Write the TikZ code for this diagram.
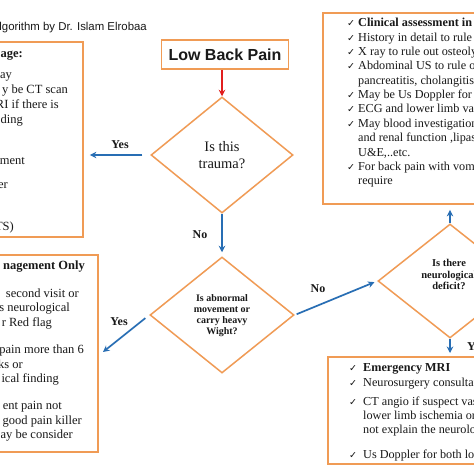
\documentclass[tikz,border=0pt]{standalone}
\usepackage{fontspec}
\setmainfont{Liberation Serif}
\newfontfamily\arialf{Liberation Sans}
\newfontfamily\chkf{DejaVu Sans}
\usetikzlibrary{shapes.geometric,arrows.meta}
\definecolor{orng}{RGB}{240,155,85}
\definecolor{blu}{RGB}{40,110,180}
\definecolor{redarr}{RGB}{225,30,30}
\definecolor{ink}{RGB}{25,25,25}
\begin{document}
\begin{tikzpicture}[x=1pt,y=-1pt,
  box/.style={draw=orng, line width=1.9pt, rectangle, inner sep=0pt},
  dia/.style={draw=orng, line width=1.5pt, diamond, inner sep=0pt},
  dtxt/.style={inner sep=0pt, align=center, text=ink},
  rt/.style={inner sep=0pt, anchor=base east, text=ink, font=\fontsize{12.5}{14}\selectfont},
  lt/.style={inner sep=0pt, anchor=base west, text=ink, font=\fontsize{12.2}{14}\selectfont},
  ck/.style={inner sep=0pt, anchor=base west, text=ink, font=\chkf\fontsize{9.5}{10}\selectfont},
  barr/.style={draw=blu, line width=1.7pt, -{Stealth[length=6.5pt,width=6.5pt]}},
  rarr/.style={draw=redarr, line width=1.5pt, -{Stealth[length=6.5pt,width=6.5pt]}},
  lbl/.style={inner sep=0pt, text=ink, font=\bfseries\fontsize{12}{12}\selectfont}]
\useasboundingbox (0,0) rectangle (474,474);
\fill[white] (0,0) rectangle (474,474);
\clip (0,0) rectangle (474,474);

% title
\node[inner sep=0pt, anchor=base east, text=ink, font=\arialf\fontsize{11.4}{12}\selectfont] (title) at (147,30) {Algorithm by Dr. Islam Elrobaa};

% boxes
\node[box, anchor=north west, minimum width=102pt, minimum height=195pt] (tl) at (-20,41) {};
\node[box, anchor=north west, minimum width=117pt, minimum height=197pt] (bl) at (-20,254) {};
\node[box, anchor=north west, minimum width=170pt, minimum height=191pt] (tr) at (322,12) {};
\node[box, anchor=north west, minimum width=165pt, minimum height=107pt] (br) at (327,356) {};
\node[box, minimum width=127pt, minimum height=29pt, text=ink, font=\arialf\bfseries\fontsize{16}{18}\selectfont] (lbp) at (225,54.5) {Low Back Pain};

% diamonds
\node[dia, minimum width=142pt, minimum height=116pt] (trauma) at (222,155) {};
\node[dtxt, font=\fontsize{14.5}{17}\selectfont] (traumat) at (222,155.5) {Is this\\trauma?};
\node[dia, minimum width=144pt, minimum height=116pt] (abn) at (222,315) {};
\node[dtxt, font=\bfseries\fontsize{10}{11}\selectfont] (abnt) at (222,315.5) {Is abnormal\\movement or\\carry heavy\\Wight?};
\node[dia, minimum width=144pt, minimum height=114pt] (neuro) at (450,281) {};
\node[dtxt, font=\bfseries\fontsize{10.5}{11.5}\selectfont] (neurot) at (449,274.5) {Is there\\neurological\\deficit?};

% arrows
\draw[rarr] (lbp.south -| trauma.north) -- (trauma.north);
\draw[barr, shorten <=8pt, shorten >=6pt] (trauma.west) -- (trauma.west -| tl.east);
\draw[barr, shorten >=4pt] (trauma.south) -- (abn.north);
\coordinate (yesend) at (103,352);
\draw[barr, shorten <=5pt] (abn.west) -- (yesend);
\draw[barr, shorten <=2pt, shorten >=3pt] (abn.east) -- (neuro.west);
\draw[barr, shorten >=5pt] (neuro.north) -- (neuro.north |- tr.south);
\draw[barr, shorten >=3pt] (neuro.south) -- (neuro.south |- br.north);

% labels
\node[lbl] (yes1) at (120,145) {Yes};
\node[lbl] (no1) at (200,235) {No};
\node[lbl] (yes2) at (119,322) {Yes};
\node[lbl] (no2) at (318,289) {No};
\node[lbl, anchor=west] (yes3) at (467,347) {Yes};

% top-left box fragments
\node[rt, font=\bfseries\fontsize{12.5}{14}\selectfont] (a1) at (23,57) {age:};
\node[rt] (a2) at (12,78) {ay};
\node[rt] (a3) at (68,93) {y be CT scan};
\node[rt] (a4) at (59,108) {RI if there is};
\node[rt] (a5) at (23,123) {ding};
\node[rt] (a6) at (25,164) {ment};
\node[rt] (a7) at (8,188) {er};
\node[rt] (a8) at (14,230) {TS)};

% bottom-left box fragments
\node[rt, font=\bfseries\fontsize{12.5}{14}\selectfont] (b1) at (85,269) {nagement Only};
\node[rt] (b2) at (79,297) {second visit or};
\node[rt] (b3) at (70,311) {s neurological};
\node[rt] (b4) at (52,326) {r Red flag};
\node[rt] (b5) at (84,353) {pain more than 6};
\node[rt] (b6) at (23,368) {ks or};
\node[rt] (b7) at (59,382) {ical finding};
\node[rt] (b8) at (62,409) {ent pain not};
\node[rt] (b9) at (82,424) {good pain killer};
\node[rt] (b10) at (73,438) {ay be consider};

% top-right box
\node[ck] (c1) at (347,26.7) {✓};
\node[lt, font=\bfseries\fontsize{12.2}{14}\selectfont] (t1) at (358,26.7) {Clinical assessment in details};
\node[ck] (c2) at (347,41.0) {✓};
\node[lt] (t2) at (358,41.0) {History in detail to rule out};
\node[ck] (c3) at (347,55.4) {✓};
\node[lt] (t3) at (358,55.4) {X ray to rule out osteolytic};
\node[ck] (c4) at (347,69.8) {✓};
\node[lt] (t4) at (358,69.8) {Abdominal US to rule out};
\node[lt] (t5) at (358,84.1) {pancreatitis, cholangitis..};
\node[ck] (c6) at (347,98.5) {✓};
\node[lt] (t6) at (358,98.5) {May be Us Doppler for both};
\node[ck] (c7) at (347,112.9) {✓};
\node[lt] (t7) at (358,112.9) {ECG and lower limb vascular};
\node[ck] (c8) at (347,127.2) {✓};
\node[lt] (t8) at (358,127.2) {May blood investigations};
\node[lt] (t9) at (358,141.6) {and renal function ,lipase};
\node[lt] (t10) at (358,156.0) {U\&E,..etc.};
\node[ck] (c11) at (347,170.3) {✓};
\node[lt] (t11) at (358,170.3) {For back pain with vomiting};
\node[lt] (t12) at (358,184.7) {require};

% bottom-right box
\node[ck] (d1) at (349,371) {✓};
\node[lt, font=\bfseries\fontsize{12.2}{14}\selectfont] (e1) at (363,371) {Emergency MRI};
\node[ck] (d2) at (349,386.5) {✓};
\node[lt] (e2) at (363,386.5) {Neurosurgery consultation};
\node[ck] (d3) at (349,405) {✓};
\node[lt] (e3) at (363,405) {CT angio if suspect vascular};
\node[lt] (e4) at (363,419) {lower limb ischemia or MRI};
\node[lt] (e5) at (363,433) {not explain the neurological};
\node[ck] (d6) at (349,458) {✓};
\node[lt] (e6) at (363,458) {Us Doppler for both lower};
\end{tikzpicture}
\end{document}
